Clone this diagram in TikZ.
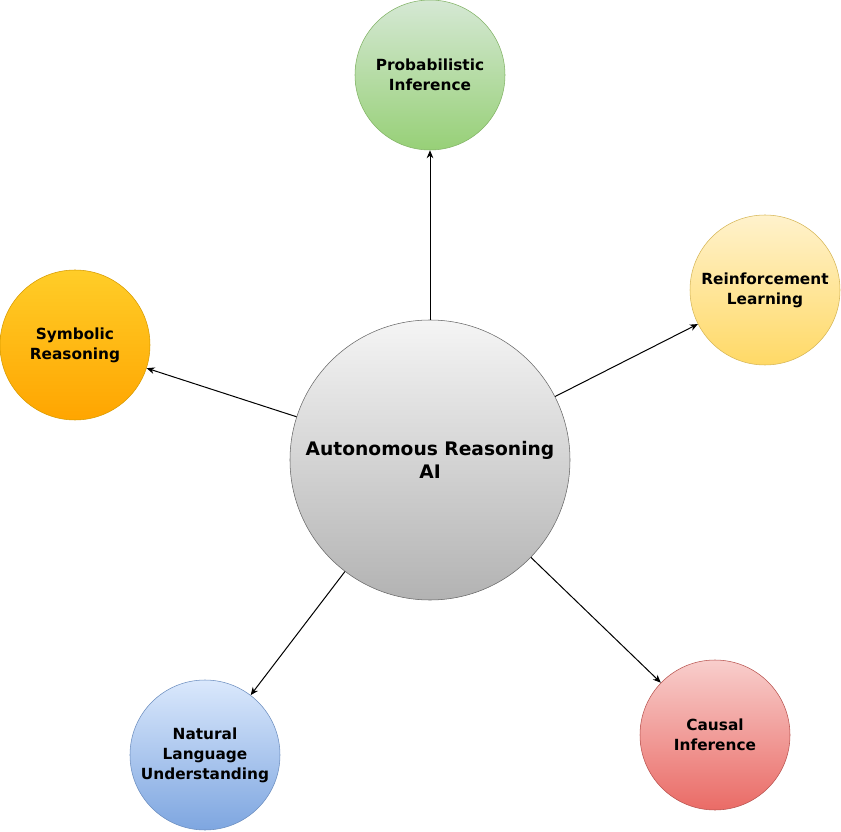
\documentclass[tikz,border=0pt]{standalone}
\usepackage{fontspec}
\setmainfont{DejaVu Sans}
\usetikzlibrary{positioning,arrows.meta}

\definecolor{greyline}{HTML}{666666}
\definecolor{greentop}{HTML}{D5E8D4}\definecolor{greenbot}{HTML}{97D077}\definecolor{greenline}{HTML}{82B366}
\definecolor{yellowtop}{HTML}{FFF2CC}\definecolor{yellowbot}{HTML}{FFD966}\definecolor{yellowline}{HTML}{D6B656}
\definecolor{orangetop}{HTML}{FFCD28}\definecolor{orangebot}{HTML}{FFA500}\definecolor{orangeline}{HTML}{D79B00}
\definecolor{bluetop}{HTML}{DAE8FC}\definecolor{bluebot}{HTML}{7EA6E0}\definecolor{blueline}{HTML}{6C8EBF}
\definecolor{redtop}{HTML}{F8CECC}\definecolor{redbot}{HTML}{EA6B66}\definecolor{redline}{HTML}{B85450}

\tikzset{
	topic/.style={circle, minimum size=112.5pt, inner sep=0pt, align=center,
		font=\fontsize{11.5}{15}\selectfont\bfseries},
	topic green/.style={topic, draw=greenline, top color=greentop, bottom color=greenbot},
	topic yellow/.style={topic, draw=yellowline, top color=yellowtop, bottom color=yellowbot},
	topic orange/.style={topic, draw=orangeline, top color=orangetop, bottom color=orangebot},
	topic blue/.style={topic, draw=blueline, top color=bluetop, bottom color=bluebot},
	topic red/.style={topic, draw=redline, top color=redtop, bottom color=redbot},
	link/.style={-{Stealth[length=6pt,width=5pt]}, line width=0.75pt},
}

\begin{document}
\begin{tikzpicture}[on grid]
	% 1. central circle
	\node [circle, minimum size=210pt, inner sep=0pt, align=center, draw=greyline,
		top color=black!4, bottom color=black!30,
		font=\fontsize{14}{17.25}\selectfont\bfseries] (c) {Autonomous Reasoning\\AI};
	\useasboundingbox (-322.5pt,345pt) rectangle (308.25pt,-278.25pt);
	
	% 2. the five topics around it
	\node [topic green, above=288.75pt of c] (pi) {Probabilistic\\Inference};
	\node [topic yellow, above right=127.5pt and 251.25pt of c] (rl) {Reinforcement\\Learning};
	\node [topic orange, above left=86.25pt and 266.25pt of c] (sr) {Symbolic\\Reasoning};
	\node [topic blue, below left=221.25pt and 168.75pt of c] (nlu) {Natural\\Language\\Understanding};
	\node [topic red, below right=206.25pt and 213.75pt of c] (ci) {Causal\\Inference};
	
	% 3. arrows out of the centre
	\draw [link] (c) -- (pi);
	\draw [link] (c) -- (rl);
	\draw [link] (c) -- (sr);
	\draw [link] (c) -- (nlu);
	\draw [link] (c) -- (ci);
\end{tikzpicture}
\end{document}
